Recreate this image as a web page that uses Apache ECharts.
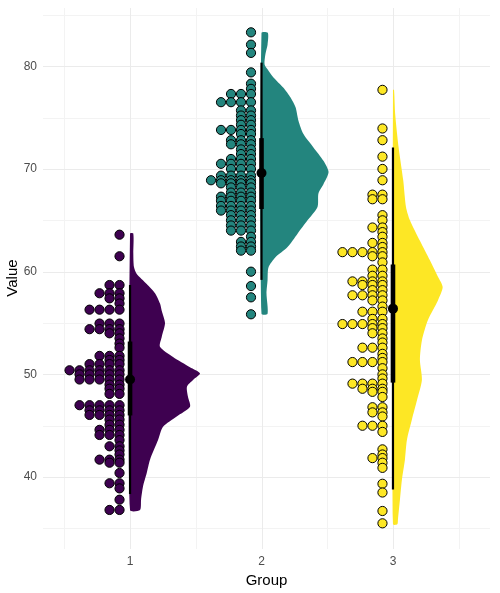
<!DOCTYPE html>
<html>
<head>
<meta charset="utf-8">
<script src="https://cdn.jsdelivr.net/npm/echarts@6/dist/echarts.min.js"></script>
<style>
  html, body { margin: 0; padding: 0; background: #fff; }
  #chart { width: 500px; height: 593px; }
</style>
</head>
<body>
<div id="chart"></div>
<script>
const groups = [1, 2, 3];
const groupColors = ['#3E0150', '#23857E', '#FDE725'];
const yTicks = [40, 50, 60, 70, 80];
const yMinorTicks = [35, 45, 55, 65, 75, 85];
const xMinorTicks = [0.5, 1.5, 2.5, 3.5];

// dot rows: [value, dots stacked at that value]
const dots1 = [
    [63.6, 1], [61.5, 1], [58.7, 2], [57.9, 3], [57.4, 2], [56.9, 1], [56.3, 4],
    [54.95, 3], [54.4, 4], [54.0, 2], [53.5, 1], [53.0, 1], [52.6, 1], [51.8, 3],
    [51.4, 2], [51.0, 4], [50.4, 6], [50.0, 5], [49.5, 5], [49.0, 2], [48.6, 2],
    [48.1, 2], [47.0, 5], [46.5, 4], [46.05, 4], [45.6, 2], [45.1, 2], [44.6, 3],
    [44.1, 3], [43.6, 1], [43.0, 2], [42.6, 1], [42.2, 1], [41.7, 3], [41.4, 2],
    [40.4, 1], [39.4, 2], [38.9, 1], [37.8, 1], [36.8, 2]
];
const dots2 = [
    [83.3, 1], [82.1, 1], [81.3, 1], [79.4, 1], [78.3, 1], [77.8, 1], [77.3, 3],
    [76.5, 4], [75.7, 2], [75.2, 2], [74.75, 2], [74.3, 2], [73.8, 4], [73.4, 2],
    [72.8, 3], [72.4, 3], [71.9, 2], [71.45, 2], [70.97, 3], [70.5, 4], [70.0, 3],
    [69.35, 4], [68.9, 5], [68.6, 4], [68.2, 3], [67.7, 3], [67.3, 4], [66.9, 4],
    [66.4, 4], [65.95, 4], [65.5, 3], [65.0, 3], [64.5, 3], [64.0, 3], [63.4, 1],
    [62.9, 2], [62.45, 2], [62.05, 2], [60.0, 1], [58.6, 1], [57.5, 1], [55.85, 1]
];
const dots3 = [
    [77.7, 1], [73.94, 1], [72.8, 1], [71.2, 1], [70.0, 1], [68.9, 1], [67.5, 2],
    [67.05, 2], [65.5, 1], [65.0, 1], [64.3, 2], [63.85, 1], [63.4, 1], [62.8, 2],
    [62.4, 1], [61.9, 5], [61.5, 2], [60.9, 1], [60.2, 2], [59.6, 2], [59.05, 4],
    [58.7, 3], [58.2, 2], [57.7, 4], [57.2, 2], [56.6, 1], [56.1, 3], [55.4, 2],
    [54.9, 5], [54.5, 2], [54.0, 2], [53.5, 1], [53.1, 1], [52.6, 3], [52.0, 1],
    [51.6, 1], [51.2, 4], [50.6, 1], [50.0, 1], [49.6, 1], [49.1, 4], [48.6, 3],
    [48.3, 2], [47.8, 1], [46.8, 2], [46.3, 2], [45.9, 1], [45.0, 3], [44.4, 1],
    [42.7, 1], [42.2, 1], [41.85, 2], [41.4, 1], [40.9, 1], [39.35, 1], [38.5, 1],
    [36.7, 1], [35.5, 1]
];

// half violin outline: [value, half width in group units]
const violin1 = [
    [63.7, 0.025], [61.75, 0.025], [60.45, 0.03], [59.8, 0.05], [58.8, 0.127],
    [57.9, 0.19], [56.9, 0.228], [56.2, 0.241], [55.0, 0.266], [53.65, 0.241],
    [52.7, 0.228], [51.7, 0.327], [50.7, 0.456], [50.1, 0.532], [49.45, 0.479],
    [48.8, 0.433], [47.8, 0.441], [46.85, 0.456], [45.9, 0.355], [44.9, 0.251],
    [43.6, 0.213], [41.7, 0.152], [40.4, 0.127], [39.1, 0.099], [37.8, 0.084],
    [36.8, 0.076]
];
const violin2 = [
    [83.25, 0.048], [82.1, 0.046], [81.2, 0.03], [80.2, 0.023], [79.7, 0.046],
    [78.9, 0.091], [77.9, 0.167], [76.95, 0.221], [76.0, 0.259], [74.7, 0.281],
    [73.4, 0.319], [72.1, 0.395], [70.8, 0.471], [69.7, 0.51], [68.5, 0.471],
    [67.6, 0.433], [66.3, 0.426], [65.0, 0.35], [63.7, 0.274], [62.4, 0.198],
    [61.4, 0.106], [60.4, 0.053], [59.15, 0.046], [57.9, 0.038], [55.9, 0.046]
];
const violin3 = [
    [77.7, 0.008], [75.3, 0.017], [72.1, 0.043], [68.9, 0.078], [66.3, 0.099],
    [65.0, 0.129], [63.0, 0.205], [61.1, 0.281], [59.5, 0.342], [58.5, 0.378],
    [57.2, 0.342], [55.3, 0.266], [53.3, 0.22], [51.4, 0.205], [49.45, 0.22],
    [47.5, 0.183], [45.6, 0.144], [43.6, 0.106], [41.7, 0.091], [39.75, 0.068],
    [37.8, 0.053], [35.9, 0.038], [35.4, 0.033]
];

// point interval: [lo95, lo66, median, hi66, hi95]
const interval1 = [38.35, 46.0, 49.5, 53.2, 58.7];
const interval2 = [59.2, 66.1, 69.6, 73.0, 80.35];
const interval3 = [38.8, 49.2, 56.4, 60.7, 72.1];

const dotSets = [dots1, dots2, dots3];
const violins = [violin1, violin2, violin3];
const intervals = [interval1, interval2, interval3];

const X_MIN = 0.338, X_MAX = 3.738;
const Y_MIN = 33, Y_MAX = 85.67;
const FONT = 'Liberation Sans, Arial, sans-serif';

let chart = echarts.init(document.getElementById('chart'));

// gridlines
function gridSeries(values, dir, color, width) {
    return {
        type: 'custom',
        silent: true,
        z: 0,
        data: values.map(v => [v, v]),
        renderItem: function (params, api) {
            const cs = params.coordSys;
            const v = api.value(0);
            if (dir === 'h') {
                const y = Math.round(api.coord([X_MIN, v])[1]) + 0.5;
                return {type: 'line', shape: {x1: cs.x, y1: y, x2: cs.x + cs.width, y2: y},
                    style: {stroke: color, lineWidth: width}};
            }
            const x = Math.round(api.coord([v, Y_MIN])[0]) + 0.5;
            return {type: 'line', shape: {x1: x, y1: cs.y, x2: x, y2: cs.y + cs.height},
                style: {stroke: color, lineWidth: width}};
        }
    };
}

let series = [
    gridSeries(yMinorTicks, 'h', '#F3F3F3', 1),
    gridSeries(xMinorTicks, 'v', '#F3F3F3', 1),
    gridSeries(yTicks, 'h', '#EBEBEB', 1),
    gridSeries(groups, 'v', '#EBEBEB', 1)
];

// half violins
series.push({
    type: 'custom',
    silent: true,
    z: 2,
    data: groups.map((g, i) => [g, i]),
    renderItem: function (params, api) {
        const i = params.dataIndex;
        const g = groups[i];
        const outline = violins[i];
        let pts = [api.coord([g, outline[0][0]])];
        outline.forEach(([v, w]) => pts.push(api.coord([g + w, v])));
        pts.push(api.coord([g, outline[outline.length - 1][0]]));
        return {
            type: 'polygon',
            shape: {points: pts, smooth: 0.25},
            style: {fill: groupColors[i]}
        };
    }
});

// stacked dots, growing leftwards from the group centre
dotSets.forEach((rows, i) => {
    series.push({
        type: 'custom',
        silent: true,
        z: 3,
        data: rows,
        renderItem: function (params, api) {
            const v = api.value(0);
            const n = api.value(1);
            const c = api.coord([groups[i], v]);
            let children = [];
            for (let k = 0; k < n; k++) {
                children.push({
                    type: 'circle',
                    shape: {cx: c[0] - 10.5 - k * 10, cy: c[1], r: 4.6},
                    style: {fill: groupColors[i], stroke: '#000', lineWidth: 1}
                });
            }
            return {type: 'group', children: children};
        }
    });
});

// median + intervals
series.push({
    type: 'custom',
    silent: true,
    z: 4,
    data: groups.map((g, i) => [g].concat(intervals[i])),
    renderItem: function (params, api) {
        const g = api.value(0);
        const p95a = api.coord([g, api.value(1)]);
        const p66a = api.coord([g, api.value(2)]);
        const pm = api.coord([g, api.value(3)]);
        const p66b = api.coord([g, api.value(4)]);
        const p95b = api.coord([g, api.value(5)]);
        return {
            type: 'group',
            children: [
                {type: 'line', shape: {x1: p95a[0], y1: p95a[1], x2: p95b[0], y2: p95b[1]},
                    style: {stroke: '#000', lineWidth: 2.2}},
                {type: 'line', shape: {x1: p66a[0], y1: p66a[1], x2: p66b[0], y2: p66b[1]},
                    style: {stroke: '#000', lineWidth: 4.6}},
                {type: 'circle', shape: {cx: pm[0], cy: pm[1], r: 5},
                    style: {fill: '#000'}}
            ]
        };
    }
});

let option = {
    animation: false,
    backgroundColor: '#fff',
    textStyle: {fontFamily: FONT},
    grid: {left: 43, right: 10, top: 8, bottom: 44, containLabel: false, outerBoundsMode: 'none'},
    graphic: [{
        type: 'text',
        x: 13,
        y: 278,
        rotation: Math.PI / 2,
        style: {
            text: 'Value',
            fill: '#000',
            font: '15px ' + FONT,
            align: 'center',
            verticalAlign: 'middle'
        }
    }],
    xAxis: {
        type: 'value',
        min: X_MIN,
        max: X_MAX,
        name: 'Group',
        nameLocation: 'middle',
        nameGap: 22,
        nameTextStyle: {color: '#000', fontSize: 15, fontFamily: FONT},
        axisLine: {show: false},
        axisTick: {show: false},
        splitLine: {show: false},
        axisLabel: {
            color: '#4D4D4D',
            fontSize: 12,
            fontFamily: FONT,
            margin: 7,
            showMinLabel: false,
            showMaxLabel: false,
            formatter: v => groups.includes(v) ? String(v) : ''
        }
    },
    yAxis: {
        type: 'value',
        min: Y_MIN,
        max: Y_MAX,
        axisLine: {show: false},
        axisTick: {show: false},
        splitLine: {show: false},
        axisLabel: {
            color: '#4D4D4D',
            fontSize: 12,
            fontFamily: FONT,
            margin: 6,
            showMinLabel: false,
            showMaxLabel: false,
            formatter: v => yTicks.includes(v) ? String(v) : ''
        }
    },
    series: series
};
chart.setOption(option);

window.addEventListener('resize', function () {
    chart.resize();
});
</script>
</body>
</html>
